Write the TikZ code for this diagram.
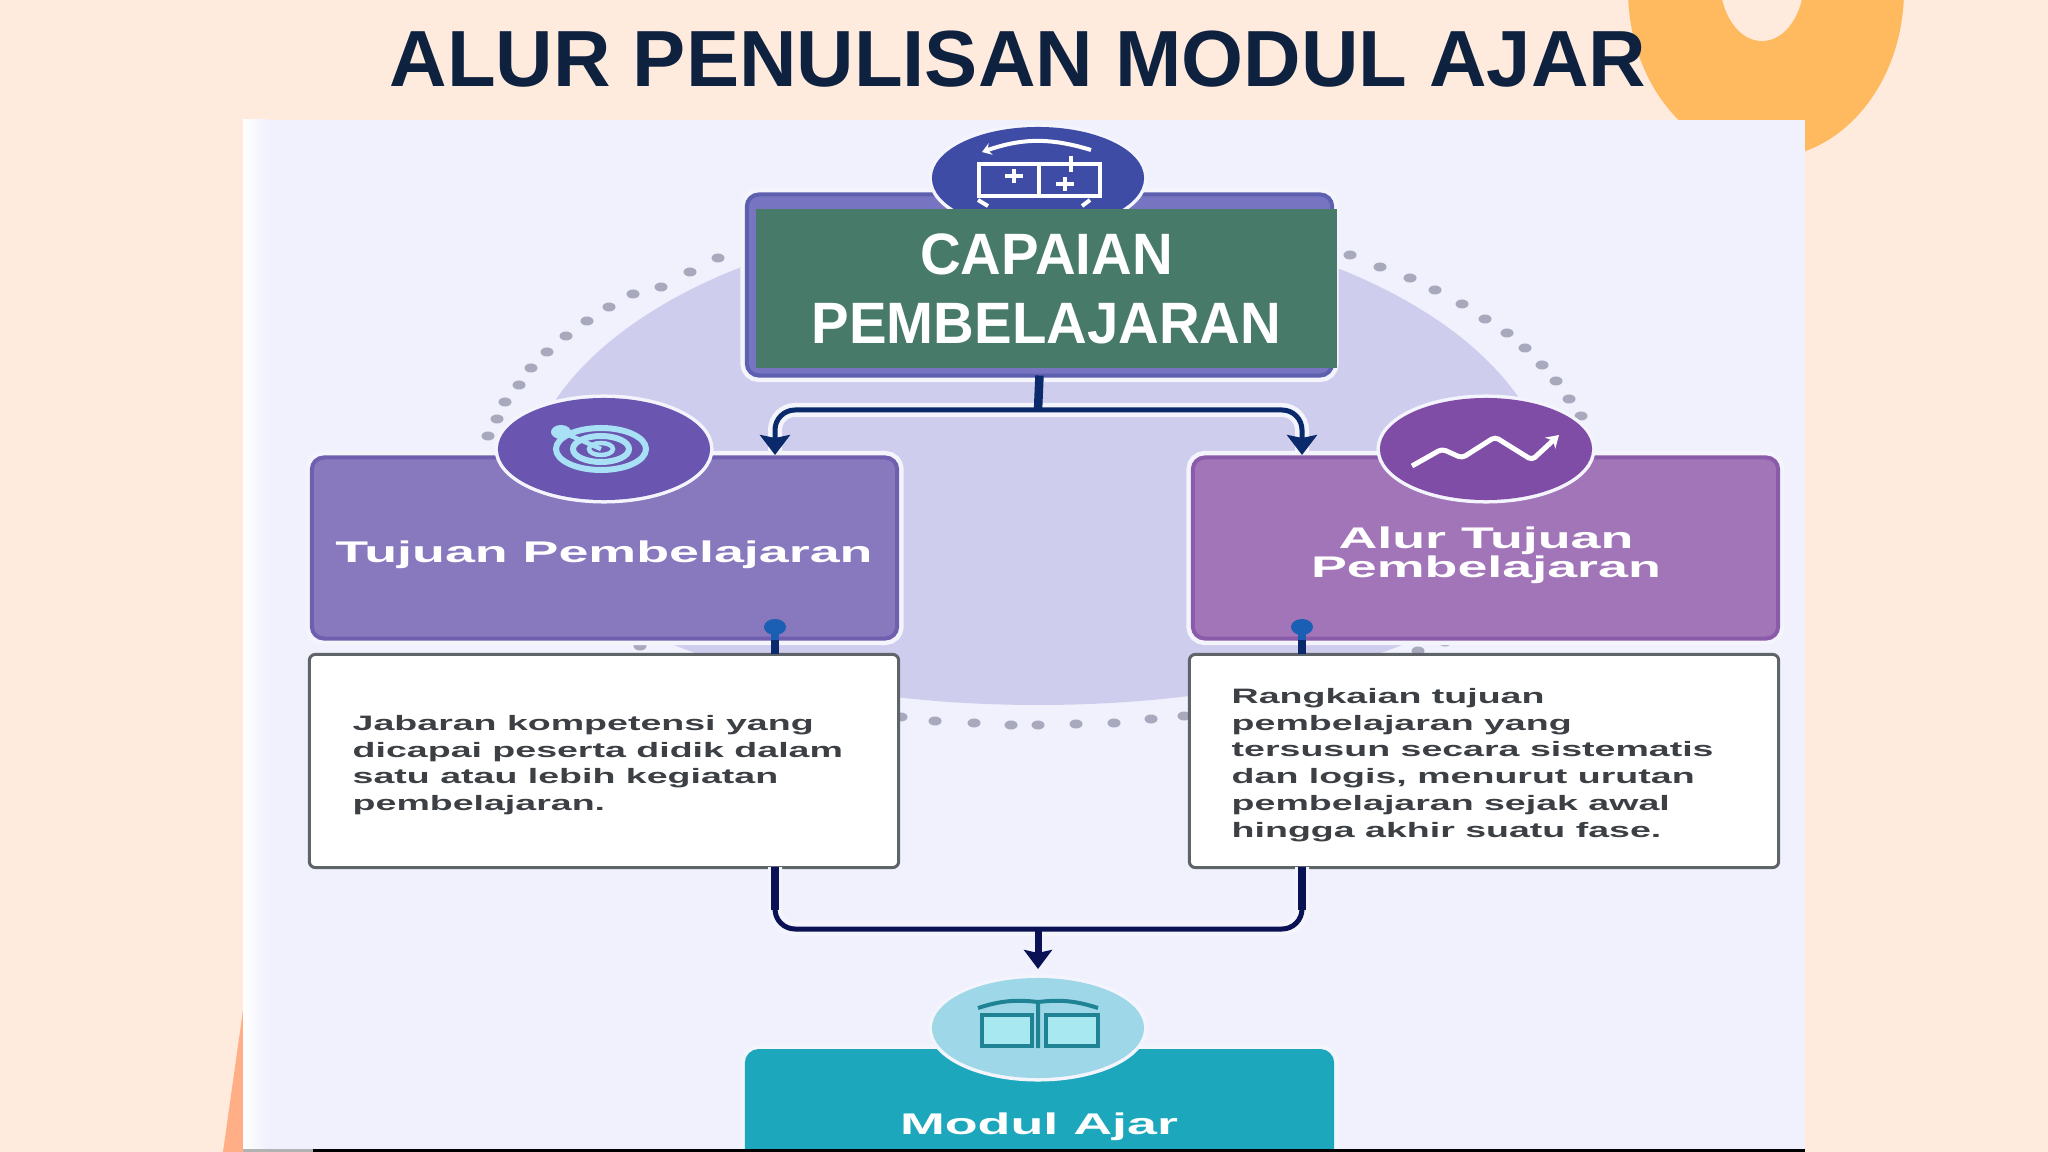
\documentclass[tikz,border=0pt]{standalone}
\usepackage{fontspec}
\setmainfont{Liberation Sans}
\newfontfamily\panelfont[FakeStretch=1.8]{Liberation Sans}
\newfontfamily\greenfont[FakeStretch=0.965]{Liberation Sans}
\usetikzlibrary{shapes.geometric,arrows.meta}
\definecolor{slidebg}{HTML}{FFEBDD}
\definecolor{panelbg}{HTML}{F0F1FC}
\definecolor{ringc}{HTML}{FFB95E}
\definecolor{wedgec}{HTML}{FFAE85}
\definecolor{titlec}{HTML}{0E2240}
\definecolor{lavender}{HTML}{CFCDEE}
\definecolor{dotc}{HTML}{A9A9BE}
\definecolor{halo}{HTML}{F4F4FD}
\definecolor{navy}{HTML}{0B2A6B}
\definecolor{darknavy}{HTML}{0A1255}
\definecolor{pindot}{HTML}{1A5FB4}
\definecolor{greenc}{HTML}{477A69}
\definecolor{cpfill}{HTML}{7775C2}
\definecolor{cpline}{HTML}{5C60AE}
\definecolor{cpicon}{HTML}{3E4CA5}
\definecolor{tpfill}{HTML}{8878BE}
\definecolor{tpline}{HTML}{6F5FAE}
\definecolor{tpicon}{HTML}{6A56B0}
\definecolor{atpfill}{HTML}{A275B8}
\definecolor{atpline}{HTML}{8A5BA8}
\definecolor{atpicon}{HTML}{7F4CA6}
\definecolor{mafill}{HTML}{1CA7BC}
\definecolor{maicon}{HTML}{9ED8E8}
\definecolor{mapage}{HTML}{A8E8F0}
\definecolor{maline}{HTML}{1F8394}
\definecolor{ringblue}{HTML}{A8E0F5}
\definecolor{desctext}{HTML}{3C4044}
\definecolor{descline}{HTML}{5E6468}
\begin{document}
\begin{tikzpicture}[x=0.01cm,y=-0.01cm,>={Stealth[length=0.2cm,width=0.3cm,inset=0.03cm]},
	box/.style={rectangle,rounded corners=0.12cm,minimum width=5.85cm,minimum height=1.81cm,inner sep=0pt,outer sep=0pt,line width=0.04cm,preaction={draw=halo,line width=0.13cm}},
	boxtxt/.style={text=white,align=center,font=\panelfont\bfseries\fontsize{8.5}{8.2}\selectfont},
	descbox/.style={rectangle,rounded corners=0.06cm,draw=descline,fill=white,line width=0.03cm,minimum width=5.89cm,minimum height=2.13cm,inner sep=0pt,outer sep=0pt},
	desctxt/.style={anchor=west,inner sep=0pt,align=left,text=desctext,font=\panelfont\bfseries\fontsize{5.93}{7.6}\selectfont},
	badge/.style={ellipse,minimum width=2.12cm,minimum height=1.02cm,inner sep=0pt,outer sep=0pt,preaction={draw=halo,line width=0.07cm}},
	flowhalo/.style={halo,line width=0.14cm,rounded corners=0.2cm},
	flowline/.style={navy,line width=0.05cm,rounded corners=0.2cm},
	backline/.style={darknavy,line width=0.05cm,rounded corners=0.2cm},
	stem/.style={navy,line width=0.085cm},
	iconline/.style={white,line width=0.04cm},
	ringline/.style={ringblue,line width=0.06cm}]
	\useasboundingbox (0,0) rectangle (2048,1152);
	\fill[slidebg] (0,0) rectangle (2048,1152);
	\fill[ringc] (1766,-10) ellipse[x radius=138,y radius=168];
	\fill[slidebg] (1762,-20) ellipse[x radius=42,y radius=61];
	\fill[wedgec] (243,1010)--(223,1152)--(243,1152)--cycle;
	\node[text=titlec,font=\bfseries\fontsize{22.65}{27}\selectfont] (title) at (1018,59) {ALUR PENULISAN MODUL AJAR};
	
	\fill[panelbg] (243,120) rectangle (1805,1149);
	\shade[left color=white,right color=panelbg] (243,120) rectangle (268,1149);
	\fill[lavender] (523,500) arc[start angle=180,end angle=360,x radius=515,y radius=285] arc[start angle=0,end angle=180,x radius=515,y radius=205]--cycle;
	\foreach \px/\py in {718/258,690/272,661/287,633/294,609/307,587/321,566/336,547/352,531/368,519/385,505/402,497/419,488/436,1350/255,1380/267,1410/278,1435/290,1462/304,1485/319,1507/333,1525/348,1542/365,1556/381,1569/399,1581/416,901/717,935/721,974/723,1011/725,1038/725,1076/724,1114/723,1151/719,1184/716,640/646,1445/642,1418/651}
		\fill[dotc] (\px,\py) ellipse[x radius=6.5,y radius=4.5];
	
	\node[box,draw=cpline,fill=cpfill] (cp) at (1039.5,285) {};
	\node[badge,fill=cpicon] (cpbadge) at (1038,178) {};
	\draw[iconline,-{Stealth[length=0.09cm,width=0.12cm]}] (1091,150) to[bend right=18] (982,152);
	\draw[iconline] (979,164) rectangle (1100,196) (1039,162)--(1039,198);
	\draw[iconline] (1005,176)--(1023,176) (1014,169)--(1014,183) (1062,164)--(1080,164) (1071,156)--(1071,172) (1056,184)--(1074,184) (1065,177)--(1065,191);
	\draw[iconline] (978,200)--(988,206) (1090,200)--(1082,206);
	\node[rectangle,fill=greenc,minimum width=5.81cm,minimum height=1.59cm,inner sep=0pt,outer sep=0pt,text=white,align=center,font=\greenfont\bfseries\fontsize{16.6}{19.6}\selectfont] (cptitle) at (1046.5,288.5) {CAPAIAN\\PEMBELAJARAN};
	
	\node[box,draw=tpline,fill=tpfill] (tp) at (604.5,548) {};
	\node[box,draw=atpline,fill=atpfill] (atp) at (1485.5,548) {};
	\node[boxtxt] (tptitle) at (604,555) {Tujuan Pembelajaran};
	\node[boxtxt] (atptitle) at (1486,555) {Alur Tujuan\\Pembelajaran};
	\node[badge,fill=tpicon] (tpbadge) at (604,449) {};
	\node[badge,fill=atpicon] (atpbadge) at (1486,449) {};
	\draw[ringline] (601,449) ellipse[x radius=45,y radius=21] (601,449) ellipse[x radius=28,y radius=13];
	\draw[ringline,line width=0.045cm] (601,449) ellipse[x radius=12,y radius=6];
	\draw[ringline,line width=0.045cm] (601,449)--(562,432);
	\fill[ringblue] (561,432) ellipse[x radius=10,y radius=7];
	\draw[iconline,line width=0.05cm,rounded corners=0.04cm,-{Stealth[length=0.12cm,width=0.15cm]}] (1412,466)--(1442,449)--(1462,458)--(1495,437)--(1532,460)--(1559,435);
	
	\node[descbox] (tpdesc) at (604,761) {};
	\node[descbox] (atpdesc) at (1484,761) {};
	\node[desctxt] (tpdesctxt) at (352,765) {Jabaran kompetensi yang\\dicapai peserta didik dalam\\satu atau lebih kegiatan\\pembelajaran.};
	\node[desctxt] (atpdesctxt) at (1231,765) {Rangkaian tujuan\\pembelajaran yang\\tersusun secara sistematis\\dan logis, menurut urutan\\pembelajaran sejak awal\\hingga akhir suatu fase.};
	
	\begin{scope}
		\clip (243,120) rectangle (1805,1149);
		\node[box,draw=mafill,fill=mafill,minimum height=2cm,anchor=north] (ma) at (1039.5,1051) {};
	\end{scope}
	\node[boxtxt] (matitle) at (1039,1127) {Modul Ajar};
	\node[badge,fill=maicon,minimum height=1cm] (mabadge) at (1038,1028) {};
	\draw[maline,fill=mapage,line width=0.04cm] (982,1015) rectangle (1032,1046) (1046,1015) rectangle (1098,1046);
	\draw[maline,line width=0.04cm] (978,1008) to[bend left=12] (1038,1002) to[bend left=12] (1098,1008) (1038,1002)--(1038,1048);
	
	\coordinate (split) at (1038,410);
	\coordinate (tpin) at (775,455);
	\coordinate (atpin) at (1302,455);
	\coordinate (tppin) at (775,627);
	\coordinate (atppin) at (1302,627);
	\coordinate (tpout) at (775,867);
	\coordinate (atpout) at (1302,867);
	\coordinate (join) at (1038,929);
	\draw[flowhalo] (tpin)--(775,410)--(1302,410)--(atpin);
	\draw[stem] (cp.south)--(split);
	\draw[flowline,->] (split)--(775,410)--(tpin);
	\draw[flowline,->] (split)--(1302,410)--(atpin);
	\draw[stem] (tppin)--(tppin|-tpdesc.north);
	\draw[stem] (atppin)--(atppin|-atpdesc.north);
	\draw[pindot,line width=0.085cm] (tppin)--(775,640);
	\draw[pindot,line width=0.085cm] (atppin)--(1302,640);
	\fill[pindot] (tppin) ellipse[x radius=11,y radius=8];
	\fill[pindot] (atppin) ellipse[x radius=11,y radius=8];
	\draw[flowhalo] (tpout)--(775,929)--(1302,929)--(atpout);
	\draw[backline] (tpout)--(775,929)--(1302,929)--(atpout);
	\draw[stem,darknavy] (tpout)--(775,910);
	\draw[stem,darknavy] (atpout)--(1302,910);
	\draw[stem,darknavy,line width=0.07cm,-{Stealth[length=0.19cm,width=0.28cm,inset=0.03cm]},shorten >=0.09cm] (join)--(mabadge.north);
	\draw[gray!60,line width=0.03cm] (243,1150.5)--(313,1150.5);
	\draw[black,line width=0.03cm] (313,1150.5)--(1805,1150.5);
\end{tikzpicture}
\end{document}
